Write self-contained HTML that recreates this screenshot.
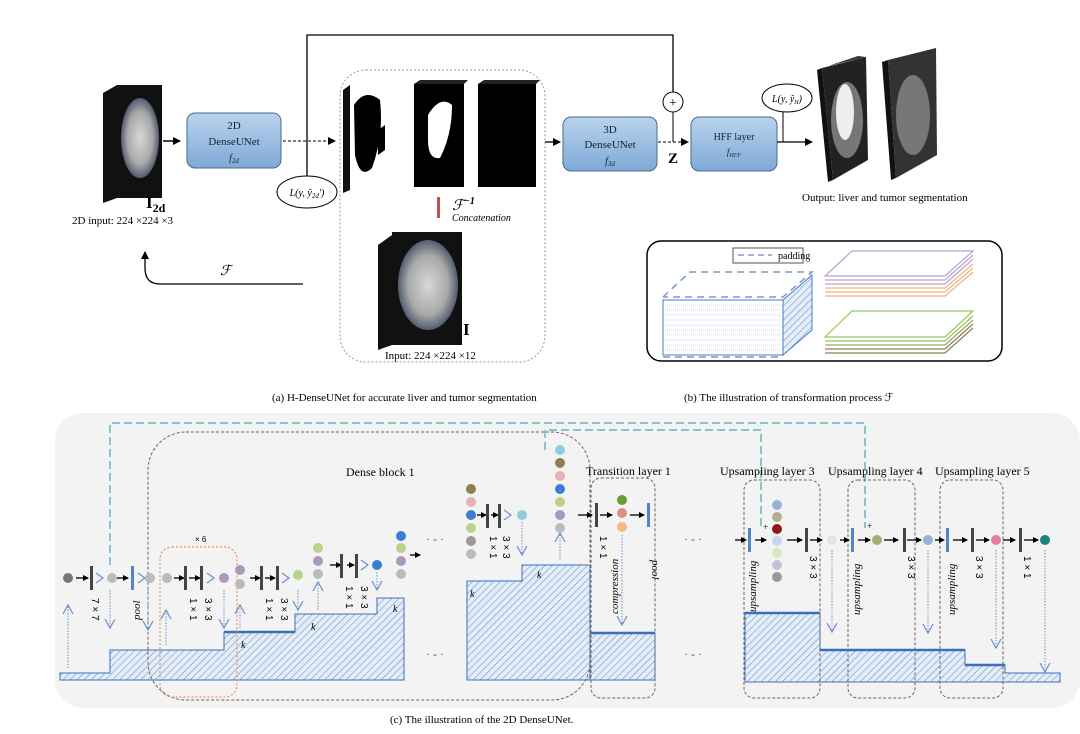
<!DOCTYPE html>
<html><head><meta charset="utf-8"><style>
html,body{margin:0;padding:0;background:#fff;width:1080px;height:734px;overflow:hidden}
svg{display:block;font-family:"Liberation Serif",serif}
</style></head><body>
<svg width="1080" height="734" viewBox="0 0 1080 734" xmlns="http://www.w3.org/2000/svg">
<defs>
<linearGradient id="bx" x1="0" y1="0" x2="0" y2="1"><stop offset="0" stop-color="#b9d3ee"/><stop offset="1" stop-color="#7fa9d6"/></linearGradient>
<radialGradient id="ct" cx="0.5" cy="0.5" r="0.55"><stop offset="0" stop-color="#d8d8d8"/><stop offset="0.6" stop-color="#a9a9a9"/><stop offset="1" stop-color="#3a4560"/></radialGradient>
<pattern id="hat" width="5" height="5" patternUnits="userSpaceOnUse" patternTransform="rotate(45)"><rect width="5" height="5" fill="#e4edf7"/><line x1="0" y1="0" x2="0" y2="5" stroke="#5f89c0" stroke-width="1"/></pattern>
<marker id="ah" markerWidth="8" markerHeight="8" refX="7" refY="4" orient="auto" markerUnits="userSpaceOnUse"><path d="M0,0 L8,4 L0,8z" fill="#000"/></marker>
<marker id="as" markerWidth="6" markerHeight="6" refX="5" refY="3" orient="auto" markerUnits="userSpaceOnUse"><path d="M0,0 L6,3 L0,6z" fill="#000"/></marker>
<marker id="ab" markerWidth="10" markerHeight="12" refX="9" refY="6" orient="auto" markerUnits="userSpaceOnUse"><path d="M0,1 L9,6 L0,11" fill="none" stroke="#6a8fc8" stroke-width="1.2"/></marker>
</defs>

<!-- ===== Panel a ===== -->
<polygon points="103,93 117,85 117,198 103,203" fill="#111"/>
<rect x="117" y="85" width="45" height="113" fill="#111"/>
<ellipse cx="140" cy="138" rx="19" ry="40" fill="url(#ct)"/>
<text x="146" y="208" font-size="17" font-weight="bold">I<tspan font-size="12" dy="4">2d</tspan></text>
<text x="72" y="224" font-size="11">2D input: 224 ×224 ×3</text>
<line x1="163" y1="141" x2="180" y2="141" stroke="#000" stroke-width="1.5" marker-end="url(#ah)"/>
<rect x="187" y="113" width="94" height="55" rx="8" fill="url(#bx)" stroke="#4a6a90"/>
<text x="234" y="129" font-size="11" text-anchor="middle" fill="#123">2D</text>
<text x="234" y="145" font-size="11" text-anchor="middle" fill="#123">DenseUNet</text>
<text x="234" y="161" font-size="10" text-anchor="middle" font-style="italic" fill="#123">f<tspan font-size="7" dy="2">2d</tspan></text>
<line x1="283" y1="141" x2="335" y2="141" stroke="#000" stroke-dasharray="3,2" marker-end="url(#ah)"/>
<polyline points="307,177 307,35 673,35 673,92" fill="none" stroke="#000" stroke-width="1.3"/>
<ellipse cx="307" cy="192" rx="30" ry="16" fill="#fff" stroke="#000"/>
<text x="307" y="196" font-size="10" text-anchor="middle" font-style="italic">L(y, ŷ<tspan font-size="7" dy="2">2d</tspan><tspan dy="-2">′)</tspan></text>
<rect x="340" y="70" width="205" height="292" rx="26" fill="none" stroke="#999" stroke-dasharray="2,2"/>
<polygon points="343,90 350,85 350,190 343,193" fill="#111"/>
<rect x="350" y="84" width="38" height="106" fill="#fff"/>
<path d="M354,105 Q365,88 380,100 Q384,135 372,168 Q360,180 355,155 Z" fill="#000"/>
<path d="M378,130 L385,125 L385,150 L378,155Z" fill="#000"/>
<rect x="414" y="84" width="50" height="103" fill="#000"/><polygon points="414,84 420,80 468,80 464,84" fill="#222"/>
<path d="M428,115 Q440,95 452,105 Q452,135 440,158 Q428,160 428,140Z" fill="#fff"/>
<rect x="478" y="84" width="58" height="103" fill="#000"/><polygon points="478,84 484,80 540,80 536,84" fill="#222"/>
<rect x="437" y="197" width="3" height="21" fill="#c0504d"/>
<text x="452" y="210" font-size="15" font-style="italic">ℱ<tspan font-size="10" dy="-6" font-weight="bold">−1</tspan></text>
<text x="452" y="221" font-size="10" font-style="italic">Concatenation</text>
<polygon points="378,245 392,235 392,345 378,350" fill="#111"/>
<rect x="392" y="232" width="70" height="113" fill="#111"/>
<ellipse cx="428" cy="285" rx="30" ry="45" fill="url(#ct)"/>
<text x="463" y="335" font-size="17" font-weight="bold">I</text>
<text x="385" y="359" font-size="11">Input: 224 ×224 ×12</text>
<path d="M303,284 L160,284 Q145,284 145,268 L145,252" fill="none" stroke="#000" stroke-width="1.3" marker-end="url(#ah)"/>
<text x="220" y="275" font-size="14" font-style="italic">ℱ</text>
<line x1="545" y1="142" x2="560" y2="142" stroke="#000" stroke-width="1.3" marker-end="url(#ah)"/>
<rect x="563" y="117" width="94" height="54" rx="8" fill="url(#bx)" stroke="#4a6a90"/>
<text x="610" y="133" font-size="11" text-anchor="middle" fill="#123">3D</text>
<text x="610" y="148" font-size="11" text-anchor="middle" fill="#123">DenseUNet</text>
<text x="610" y="164" font-size="10" text-anchor="middle" font-style="italic" fill="#123">f<tspan font-size="7" dy="2">3d</tspan></text>
<circle cx="673" cy="102" r="10" fill="#fff" stroke="#000"/>
<text x="673" y="107" font-size="14" text-anchor="middle">+</text>
<line x1="673" y1="112" x2="673" y2="142" stroke="#000"/>
<line x1="658" y1="142" x2="688" y2="142" stroke="#000" stroke-dasharray="3,2" marker-end="url(#ah)"/>
<text x="668" y="163" font-size="15" font-weight="bold">Z</text>
<rect x="691" y="117" width="86" height="54" rx="8" fill="url(#bx)" stroke="#4a6a90"/>
<text x="734" y="140" font-size="10" text-anchor="middle" fill="#123">HFF layer</text>
<text x="734" y="155" font-size="9" text-anchor="middle" font-style="italic" fill="#123">f<tspan font-size="6" dy="2">HFF</tspan></text>
<line x1="777" y1="142" x2="812" y2="142" stroke="#000" stroke-width="1.3" marker-end="url(#ah)"/>
<line x1="783" y1="142" x2="783" y2="112" stroke="#000"/>
<ellipse cx="787" cy="98" rx="25" ry="14" fill="#fff" stroke="#000"/>
<text x="787" y="102" font-size="10" text-anchor="middle" font-style="italic">L(y, ŷ<tspan font-size="6" dy="2">H</tspan><tspan dy="-2">)</tspan></text>
<polygon points="817,70 822,68 833,180 828,182" fill="#111"/>
<polygon points="822,68 866,57 868,160 833,180" fill="#222"/>
<polygon points="822,68 858,56 866,57 828,66" fill="#333"/>
<ellipse cx="847" cy="120" rx="16" ry="38" fill="#777"/><ellipse cx="845" cy="112" rx="9" ry="28" fill="#eee"/>
<polygon points="882,62 888,60 896,178 891,180" fill="#111"/>
<polygon points="888,60 936,48 937,155 896,178" fill="#333"/>
<ellipse cx="913" cy="115" rx="17" ry="40" fill="#777"/>
<text x="802" y="201" font-size="11">Output: liver and tumor segmentation</text>
<rect x="647" y="241" width="355" height="120" rx="14" fill="#fff" stroke="#000" stroke-width="1.5"/>
<rect x="733" y="248" width="70" height="15" fill="#fff" stroke="#555"/>
<line x1="738" y1="255" x2="772" y2="255" stroke="#7b96cc" stroke-width="1.5" stroke-dasharray="6,4"/>
<text x="778" y="259" font-size="10">padding</text>
<rect x="663" y="300" width="120" height="55" fill="#fff" stroke="#4a7ac8"/>
<g stroke="#8fb0dd" stroke-width="0.6" stroke-dasharray="1,1"><line x1="665" y1="305" x2="781" y2="305"/><line x1="665" y1="310" x2="781" y2="310"/><line x1="665" y1="315" x2="781" y2="315"/><line x1="665" y1="320" x2="781" y2="320"/><line x1="665" y1="325" x2="781" y2="325"/><line x1="665" y1="330" x2="781" y2="330"/><line x1="665" y1="335" x2="781" y2="335"/><line x1="665" y1="340" x2="781" y2="340"/><line x1="665" y1="345" x2="781" y2="345"/><line x1="665" y1="350" x2="781" y2="350"/></g>
<polygon points="783,300 812,275 812,330 783,355" fill="url(#hat)" stroke="#4a7ac8"/>
<polyline points="663,297 690,272 812,272 783,297 663,297" fill="none" stroke="#7b96cc" stroke-width="1.5" stroke-dasharray="7,5"/>
<line x1="663" y1="357" x2="783" y2="357" stroke="#7b96cc" stroke-width="1.5" stroke-dasharray="7,5"/>
<g fill="none" stroke-width="1.2">
<polygon points="825,276 852,251 973,251 945,276" stroke="#b7a4cf"/>
<polyline points="825,280 945,280 973,255" stroke="#b7a4cf"/><polyline points="825,284 945,284 973,259" stroke="#b7a4cf"/>
<polyline points="825,288 945,288 973,264" stroke="#f4b183"/><polyline points="825,292 945,292 973,268" stroke="#f4b183"/><polyline points="825,296 945,296 973,272" stroke="#f4b183"/>
<polygon points="825,337 852,311 973,311 945,337" stroke="#92c760"/>
<polyline points="825,341 945,341 973,316" stroke="#92c760"/><polyline points="825,345 945,345 973,320" stroke="#a0a070"/>
<polyline points="825,349 945,349 973,324" stroke="#8c8050"/><polyline points="825,353 945,353 973,328" stroke="#8c8050"/>
</g>
<text x="272" y="401" font-size="11">(a) H-DenseUNet for accurate liver and tumor segmentation</text>
<text x="684" y="401" font-size="11">(b) The illustration of transformation process ℱ</text>

<!-- ===== Panel c ===== -->
<rect x="55" y="413" width="1025" height="295" rx="28" fill="#f3f3f3"/>
<path d="M60,680 L60,673 L110,673 L110,650 L224,650 L224,632 L295,632 L295,614 L377,614 L377,598 L404,598 L404,680 Z" fill="url(#hat)" stroke="#3a6fc0"/>
<path d="M467,680 L467,581 L522,581 L522,565 L590,565 L590,680 Z" fill="url(#hat)" stroke="#3a6fc0"/>
<path d="M590,680 L590,633 L655,633 L655,680 Z" fill="url(#hat)" stroke="#3a6fc0"/>
<path d="M745,682 L745,613 L820,613 L820,650 L965,650 L965,665 L1005,665 L1005,673 L1060,673 L1060,682 Z" fill="url(#hat)" stroke="#3a6fc0"/>
<g stroke="#3a6fc0" stroke-width="2.5"><line x1="224" y1="632" x2="295" y2="632"/><line x1="590" y1="633" x2="655" y2="633"/><line x1="745" y1="613" x2="820" y2="613"/><line x1="820" y1="650" x2="965" y2="650"/><line x1="965" y1="665" x2="1005" y2="665"/></g>
<polyline points="110,565 110,423 865,423 865,528" fill="none" stroke="#4aa3b8" stroke-width="1.2" stroke-dasharray="8,4"/>
<polyline points="545,450 545,430 761,430 761,527" fill="none" stroke="#4aa3b8" stroke-width="1.2" stroke-dasharray="8,4"/>
<g fill="none" stroke="#666" stroke-dasharray="3,2">
<rect x="148" y="432" width="442" height="268" rx="38"/>
<rect x="591" y="478" width="64" height="220" rx="10"/>
<rect x="744" y="480" width="76" height="218" rx="10"/>
<rect x="848" y="480" width="67" height="218" rx="10"/>
<rect x="940" y="480" width="63" height="218" rx="10"/>
</g>
<rect x="160" y="547" width="77" height="150" rx="12" fill="none" stroke="#e0804a" stroke-dasharray="2,2"/>
<text x="195" y="542" font-size="8" font-family="Liberation Sans,sans-serif">× 6</text>
<text x="346" y="476" font-size="12">Dense block 1</text>
<text x="586" y="475" font-size="12">Transition layer 1</text>
<text x="720" y="475" font-size="12">Upsampling layer 3</text>
<text x="828" y="475" font-size="12">Upsampling layer 4</text>
<text x="935" y="475" font-size="12">Upsampling layer 5</text>
<g stroke="#6a8fc8" stroke-width="1" stroke-dasharray="1.5,1.5" fill="none">
<line x1="68" y1="668" x2="68" y2="605" marker-end="url(#ab)"/>
<line x1="110" y1="590" x2="110" y2="628" marker-end="url(#ab)"/>
<line x1="148" y1="590" x2="148" y2="630" marker-end="url(#ab)"/>
<line x1="166" y1="645" x2="166" y2="610" marker-end="url(#ab)"/>
<line x1="224" y1="590" x2="224" y2="628" marker-end="url(#ab)"/>
<line x1="240" y1="628" x2="240" y2="605" marker-end="url(#ab)"/>
<line x1="298" y1="590" x2="298" y2="610" marker-end="url(#ab)"/>
<line x1="318" y1="610" x2="318" y2="582" marker-end="url(#ab)"/>
<line x1="377" y1="572" x2="377" y2="590" marker-end="url(#ab)"/>
<line x1="522" y1="522" x2="522" y2="555" marker-end="url(#ab)"/>
<line x1="560" y1="560" x2="560" y2="533" marker-end="url(#ab)"/>
<line x1="622" y1="535" x2="622" y2="625" marker-end="url(#ab)"/>
<line x1="832" y1="550" x2="832" y2="632" marker-end="url(#ab)"/>
<line x1="928" y1="550" x2="928" y2="633" marker-end="url(#ab)"/>
<line x1="996" y1="550" x2="996" y2="648" marker-end="url(#ab)"/>
<line x1="1045" y1="550" x2="1045" y2="672" marker-end="url(#ab)"/>
</g>
<g stroke="#000" stroke-width="1.3" marker-end="url(#as)">
<line x1="76" y1="578" x2="88" y2="578"/><line x1="117" y1="578" x2="128" y2="578"/>
<line x1="174" y1="578" x2="184" y2="578"/><line x1="189" y1="578" x2="200" y2="578"/>
<line x1="250" y1="578" x2="260" y2="578"/><line x1="265" y1="578" x2="275" y2="578"/>
<line x1="330" y1="565" x2="341" y2="565"/><line x1="347" y1="565" x2="354" y2="565"/>
<line x1="410" y1="555" x2="420" y2="555"/>
<line x1="477" y1="515" x2="486" y2="515"/><line x1="491" y1="515" x2="498" y2="515"/>
<line x1="578" y1="515" x2="592" y2="515"/><line x1="600" y1="515" x2="612" y2="515"/><line x1="630" y1="515" x2="644" y2="515"/>
<line x1="735" y1="540" x2="746" y2="540"/><line x1="755" y1="540" x2="766" y2="540"/>
<line x1="787" y1="540" x2="802" y2="540"/><line x1="810" y1="540" x2="822" y2="540"/>
<line x1="840" y1="540" x2="849" y2="540"/><line x1="858" y1="540" x2="870" y2="540"/>
<line x1="884" y1="540" x2="898" y2="540"/><line x1="907" y1="540" x2="921" y2="540"/>
<line x1="935" y1="540" x2="944" y2="540"/><line x1="953" y1="540" x2="967" y2="540"/>
<line x1="976" y1="540" x2="989" y2="540"/><line x1="1003" y1="540" x2="1015" y2="540"/>
<line x1="1024" y1="540" x2="1038" y2="540"/>
</g>
<g fill="#444">
<rect x="90" y="566" width="3" height="24"/><rect x="184" y="566" width="3" height="24"/><rect x="200" y="566" width="3" height="24"/>
<rect x="260" y="566" width="3" height="24"/><rect x="276" y="566" width="3" height="24"/>
<rect x="340" y="554" width="3" height="24"/><rect x="355" y="554" width="3" height="24"/>
<rect x="486" y="504" width="3" height="24"/><rect x="498" y="504" width="3" height="24"/>
<rect x="595" y="503" width="3" height="24"/>
<rect x="805" y="528" width="3" height="24"/><rect x="903" y="528" width="3" height="24"/>
<rect x="971" y="528" width="3" height="24"/><rect x="1019" y="528" width="3" height="24"/>
</g>
<g fill="#4f86c6">
<rect x="131" y="566" width="3" height="24"/><rect x="647" y="503" width="3" height="24"/>
<rect x="748" y="528" width="3" height="24"/><rect x="851" y="528" width="3" height="24"/><rect x="946" y="528" width="3" height="24"/>
</g>
<g fill="none" stroke="#6a8fc8" stroke-width="1.2">
<polyline points="96,573 103,578 96,583"/><polyline points="138,573 145,578 138,583"/><polyline points="207,573 214,578 207,583"/>
<polyline points="282,573 289,578 282,583"/><polyline points="361,560 368,565 361,570"/><polyline points="504,510 511,515 504,520"/>
</g>
<g>
<circle cx="68" cy="578" r="5" fill="#777"/><circle cx="112" cy="578" r="5" fill="#bbb"/><circle cx="150" cy="578" r="5" fill="#bbb"/>
<circle cx="167" cy="578" r="5" fill="#bbb"/><circle cx="224" cy="578" r="5" fill="#aa99bb"/>
<circle cx="240" cy="570" r="5" fill="#aa99bb"/><circle cx="240" cy="584" r="5" fill="#bbb"/>
<circle cx="298" cy="575" r="5" fill="#b8d48a"/>
<circle cx="318" cy="548" r="5" fill="#b8d48a"/><circle cx="318" cy="561" r="5" fill="#aa99bb"/><circle cx="318" cy="574" r="5" fill="#bbb"/>
<circle cx="377" cy="565" r="5" fill="#3a7fd0"/>
<circle cx="401" cy="536" r="5" fill="#3a7fd0"/><circle cx="401" cy="548" r="5" fill="#b8d48a"/><circle cx="401" cy="561" r="5" fill="#aa99bb"/><circle cx="401" cy="574" r="5" fill="#bbb"/>
<circle cx="471" cy="489" r="5" fill="#8a8050"/><circle cx="471" cy="502" r="5" fill="#e8b0b8"/><circle cx="471" cy="515" r="5" fill="#3a7fd0"/><circle cx="471" cy="528" r="5" fill="#b8d48a"/><circle cx="471" cy="541" r="5" fill="#999"/><circle cx="471" cy="554" r="5" fill="#bbb"/>
<circle cx="522" cy="515" r="5" fill="#8ccfd8"/>
<circle cx="560" cy="450" r="5" fill="#8ccfd8"/><circle cx="560" cy="463" r="5" fill="#8a8050"/><circle cx="560" cy="476" r="5" fill="#e8b0b8"/><circle cx="560" cy="489" r="5" fill="#3a7fd0"/><circle cx="560" cy="502" r="5" fill="#b8d48a"/><circle cx="560" cy="515" r="5" fill="#aa99bb"/><circle cx="560" cy="528" r="5" fill="#bbb"/>
<circle cx="622" cy="500" r="5" fill="#6a9a30"/><circle cx="622" cy="513" r="5" fill="#e09080"/><circle cx="622" cy="527" r="5" fill="#f4b880"/>
<circle cx="777" cy="505" r="5" fill="#9ab0d8"/><circle cx="777" cy="517" r="5" fill="#b0b090"/><circle cx="777" cy="529" r="5" fill="#8b1a1a"/><circle cx="777" cy="541" r="5" fill="#c8d8ec"/><circle cx="777" cy="553" r="5" fill="#d8e8c0"/><circle cx="777" cy="565" r="5" fill="#c8c0d8"/><circle cx="777" cy="577" r="5" fill="#999"/>
<circle cx="832" cy="540" r="5" fill="#e4e4e4"/><circle cx="877" cy="540" r="5" fill="#a0b070"/><circle cx="928" cy="540" r="5" fill="#9ab0d8"/><circle cx="996" cy="540" r="5" fill="#e08098"/><circle cx="1045" cy="540" r="5" fill="#1a8080"/>
</g>
<text x="763" y="530" font-size="9">+</text><text x="867" y="529" font-size="9">+</text>
<g font-size="10" font-style="italic"><text x="241" y="648">k</text><text x="311" y="630">k</text><text x="393" y="612">k</text><text x="470" y="597">k</text><text x="537" y="578">k</text></g>
<g font-size="10" font-family="Liberation Sans,sans-serif">
<text transform="translate(92,598) rotate(90)">7 × 7</text>
<text transform="translate(190,598) rotate(90)">1 × 1</text><text transform="translate(205,598) rotate(90)">3 × 3</text>
<text transform="translate(266,598) rotate(90)">1 × 1</text><text transform="translate(281,598) rotate(90)">3 × 3</text>
<text transform="translate(346,586) rotate(90)">1 × 1</text><text transform="translate(361,586) rotate(90)">3 × 3</text>
<text transform="translate(490,536) rotate(90)">1 × 1</text><text transform="translate(503,536) rotate(90)">3 × 3</text>
<text transform="translate(600,536) rotate(90)">1 × 1</text>
<text transform="translate(810,556) rotate(90)">3 × 3</text><text transform="translate(908,556) rotate(90)">3 × 3</text>
<text transform="translate(976,556) rotate(90)">3 × 3</text><text transform="translate(1024,556) rotate(90)">1 × 1</text>
</g>
<g font-size="11" font-style="italic">
<text transform="translate(140,620) rotate(-90)">pool</text>
<text transform="translate(652,560) rotate(90)">pool</text>
<text transform="translate(618,614) rotate(-90)">compression</text>
<text transform="translate(756,612) rotate(-90)">upsampling</text>
<text transform="translate(860,615) rotate(-90)">upsampling</text>
<text transform="translate(955,615) rotate(-90)">upsampling</text>
</g>
<g font-size="12" fill="#555"><text x="426" y="543">· - ·</text><text x="426" y="658">· - ·</text><text x="684" y="543">· - ·</text><text x="684" y="658">· - ·</text></g>
<text x="390" y="723" font-size="11">(c) The illustration of the 2D DenseUNet.</text>
</svg>
</body></html>
